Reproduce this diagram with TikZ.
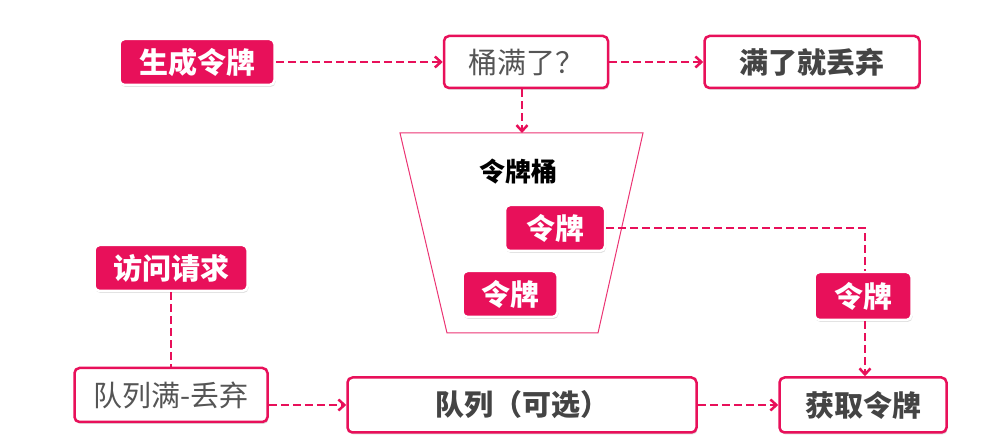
\documentclass[tikz,border=0pt]{standalone}
\usepackage{fontspec}
\setmainfont{Noto Sans CJK SC}
\usetikzlibrary{arrows.meta,shadows}
\definecolor{pk}{HTML}{E8105A}
\definecolor{tx}{HTML}{555555}
\tikzset{
  base/.style={rounded corners=5pt,line width=2.5pt,draw=pk,inner sep=0pt,
    drop shadow={opacity=0.25,shadow xshift=1pt,shadow yshift=-2pt}},
  filled/.style={base,fill=pk,draw=white,text=white,font=\fontsize{29}{31}\selectfont\bfseries},
  outl/.style={base,fill=white,text=tx,font=\fontsize{29}{31}\selectfont},
  outb/.style={base,fill=white,text=tx!80!black,font=\fontsize{29}{31}\selectfont\bfseries},
  conn/.style={draw=pk,line width=2.5pt,dash pattern=on 8pt off 4pt},
  arr/.style={conn,-{Straight Barb[length=6pt,width=11pt]}}
}
\begin{document}
\begin{tikzpicture}[x=1pt,y=-1pt]
\useasboundingbox (0,0) rectangle (997,446);
\draw[pk!85,line width=1pt] (400,133) -- (643,133) -- (598,333) -- (447,333) -- cycle;
\node[font=\fontsize{26}{28}\selectfont\bfseries] (bucket) at (518,172) {令牌桶};
\node[filled,minimum width=155,minimum height=46] (gen) at (197,62) {生成令牌};
\node[outl,minimum width=164,minimum height=52] (full) at (526,62) {桶满了？};
\node[outb,minimum width=215,minimum height=52] (drop) at (812,62) {满了就丢弃};
\node[filled,minimum width=100,minimum height=46] (t1) at (555,228) {令牌};
\node[filled,minimum width=95,minimum height=46] (t2) at (510,294) {令牌};
\node[filled,minimum width=97,minimum height=48] (t3) at (863,296) {令牌};
\node[filled,minimum width=153,minimum height=46] (req) at (171,268) {访问请求};
\node[outl,minimum width=193,minimum height=54] (qf) at (171,395) {队列满-丢弃};
\node[outb,minimum width=349,minimum height=55] (q) at (522,405) {队列（可选）};
\node[outb,minimum width=167,minimum height=55] (get) at (863,405) {获取令牌};
\coordinate (btop) at (522,133);
\coordinate (corner) at (865,228);
\draw[arr] (gen) -- (full);
\draw[arr] (full) -- (drop);
\draw[arr] (full.south -| btop) -- (btop);
\draw[conn] (t1.east) -- (corner) -- (t3.north -| corner);
\draw[arr] (t3.south -| corner) -- (get.north -| corner);
\draw[conn] (req) -- (qf);
\draw[arr] (qf.east |- q) -- (q);
\draw[arr] (q) -- (get);
\end{tikzpicture}
\end{document}
